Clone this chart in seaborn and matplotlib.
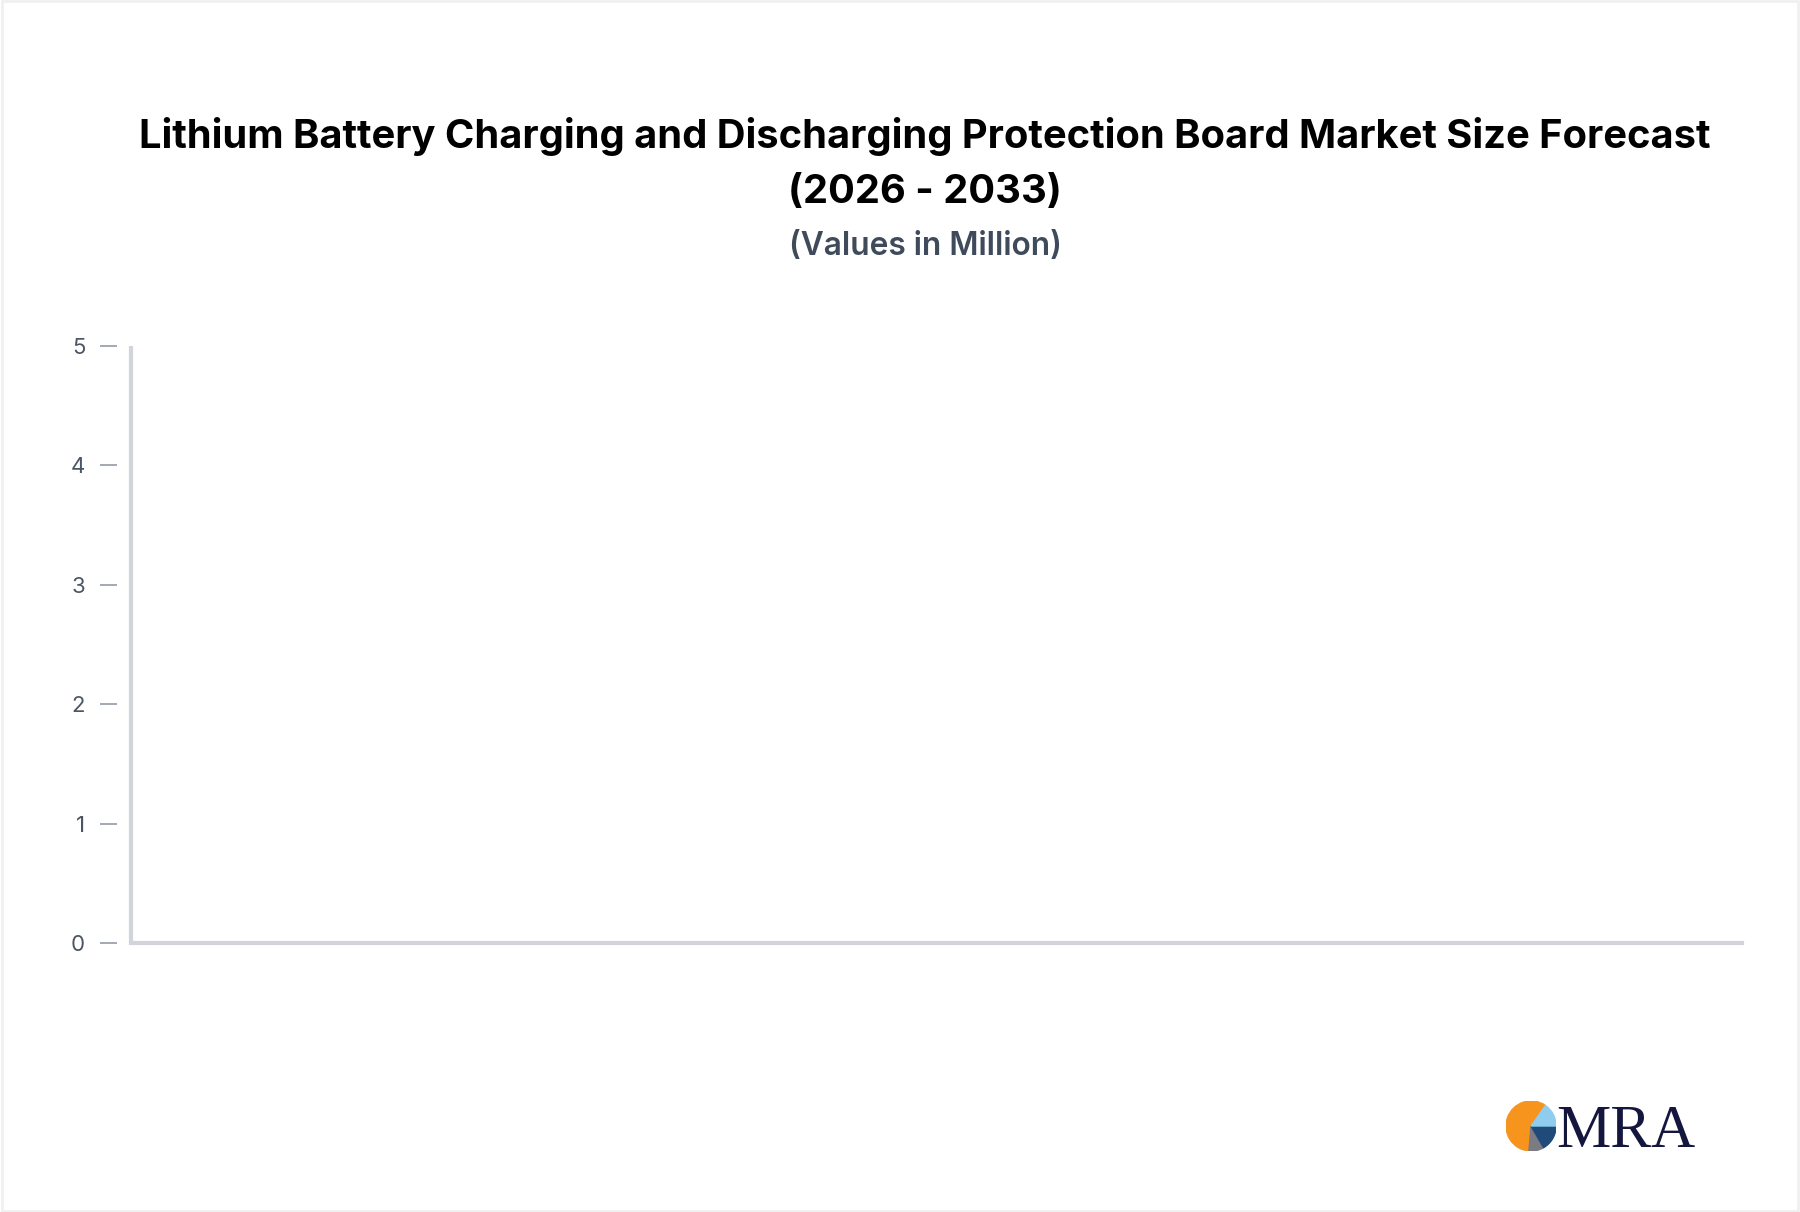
import matplotlib
matplotlib.use('Agg')
import matplotlib.pyplot as plt
import matplotlib.patches as mpatches
import seaborn as sns
import pandas as pd

# the source chart shows no data, only an empty 0-5 axis
years = []
values = []
y_ticks = [0, 1, 2, 3, 4, 5]

title_1 = 'Lithium Battery Charging and Discharging Protection Board Market Size Forecast'
title_2 = '(2026 - 2033)'
subtitle = '(Values in Million)'

sns.set_theme(style='white')
plt.rcParams['font.family'] = ['Inter', 'DejaVu Sans']

fig = plt.figure(figsize=(18, 12.12), dpi=100)
fig.patch.set_facecolor('white')
ax = fig.add_axes([0.0728, 0.2219, 0.8950, 0.4926])

df = pd.DataFrame({'year': years, 'value': values})
if len(df):
    sns.barplot(data=df, x='year', y='value', ax=ax, color='#1f4e79')

ax.set_ylim(0, 5)
ax.set_xlim(0, 1)
ax.set_yticks(y_ticks)
ax.set_yticklabels([str(t) for t in y_ticks])
ax.set_xticks([])
ax.set_xlabel('')
ax.set_ylabel('')

# ticks sit apart from the visible axis line
for s in ['top', 'right']:
    ax.spines[s].set_visible(False)
ax.spines['left'].set_position(('outward', 10))
ax.spines['left'].set_color('none')
ax.spines['bottom'].set_color('#d1d5db')
ax.spines['bottom'].set_linewidth(3)
ax.plot([0, 0], [0, 1], transform=ax.transAxes, color='#d1d5db', lw=3,
        clip_on=False, solid_capstyle='butt')
ax.tick_params(axis='y', length=12, width=1.3, color='#9ca3af', pad=11, left=True,
               labelsize=16, labelcolor='#4b5563')

fig.text(0.514, 0.887, title_1, ha='center', va='center', fontsize=28.7,
         fontweight='bold', color='#000000')
fig.text(0.514, 0.841, title_2, ha='center', va='center', fontsize=28.7,
         fontweight='bold', color='#000000')
fig.text(0.514, 0.797, subtitle, ha='center', va='center', fontsize=22.8,
         fontweight='semibold', color='#3f4a5a')

# MRA logo
lax = fig.add_axes([0.8367, 0.0503, 0.0278, 0.0413])
lax.set_xlim(-1, 1)
lax.set_ylim(-1, 1)
lax.set_aspect('equal')
lax.axis('off')
lax.add_patch(mpatches.Wedge((0, 0), 1, 55, 265, color='#f7941d'))
lax.add_patch(mpatches.Wedge((0, 0), 1, 265, 300, color='#7b7b82'))
lax.add_patch(mpatches.Wedge((0, 0), 1, 300, 360, color='#1f4a7a'))
lax.add_patch(mpatches.Wedge((0, 0), 1, 0, 55, color='#8fcdee'))
fig.text(0.8645, 0.0536, 'MRA', ha='left', va='baseline', fontsize=44,
         family=['Liberation Serif', 'DejaVu Serif'], color='#14163d')

# faint frame around the picture
fig.patches.append(mpatches.Rectangle((0.001, 0.001), 0.998, 0.998, transform=fig.transFigure,
                                      fill=False, edgecolor='#f0f0f0', lw=2))

fig.savefig('out.png', dpi=100, facecolor='white')
